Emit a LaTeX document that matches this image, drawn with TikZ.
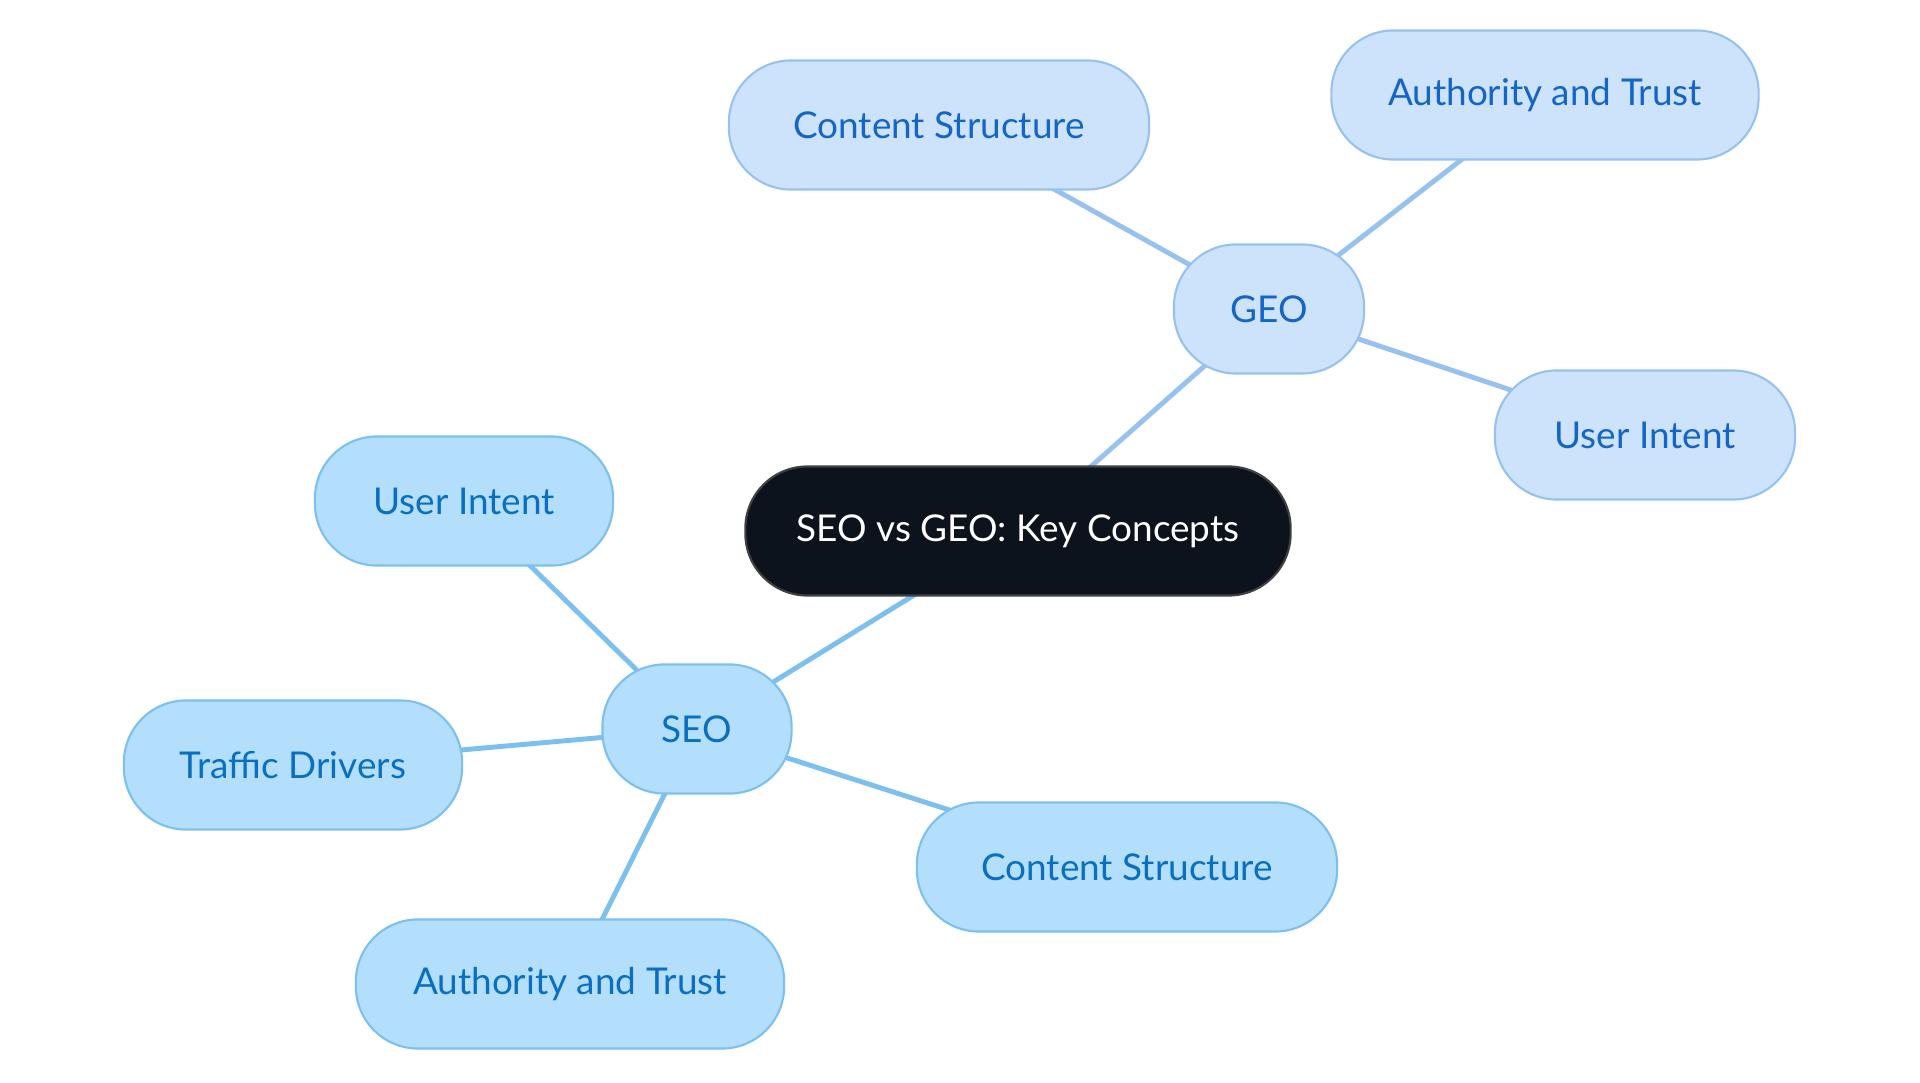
\documentclass[tikz,border=0pt]{standalone}
\usepackage{fontspec}
\setmainfont{Lato}
\usetikzlibrary{backgrounds}

\definecolor{seofill}{HTML}{B3DFFD}
\definecolor{seoline}{HTML}{7CC0F0}
\definecolor{seotext}{HTML}{0A6FC2}
\definecolor{geofill}{HTML}{CDE3FB}
\definecolor{geoline}{HTML}{97C1EE}
\definecolor{geotext}{HTML}{1565C8}
\definecolor{rootfill}{HTML}{0D131C}

\begin{document}
\begin{tikzpicture}[x=0.01cm, y=-0.01cm, every node/.style={font=\fontsize{10.5}{12}\selectfont},
	pill/.style={draw, line width=0.6pt, rounded corners=0.62cm, minimum height=1.29cm, inner xsep=0.2cm},
	seo/.style={pill, fill=seofill, draw=seoline, text=seotext},
	geo/.style={pill, fill=geofill, draw=geoline, text=geotext},
	seoedge/.style={draw=seoline, line width=1.4pt},
	geoedge/.style={draw=geoline, line width=1.4pt}]
	\useasboundingbox (0,0) rectangle (1920,1083);
	\node[pill, fill=rootfill, draw=black!75, text=white, minimum width=5.45cm] (root) at (1018,531) {SEO vs GEO: Key Concepts};
	\node[geo, minimum width=1.9cm] (geo) at (1269,309) {GEO};
	\node[seo, minimum width=1.89cm] (seo) at (697,729) {SEO};
	\node[geo, minimum width=4.2cm] (gcont) at (939,125) {Content Structure};
	\node[geo, minimum width=4.27cm] (gauth) at (1545,95) {Authority and Trust};
	\node[geo, minimum width=3.0cm] (gint) at (1645,435) {User Intent};
	\node[seo, minimum width=2.98cm] (sint) at (464,501) {User Intent};
	\node[seo, minimum width=3.38cm] (straf) at (293,765) {Traffic Drivers};
	\node[seo, minimum width=4.28cm] (sauth) at (570,984) {Authority and Trust};
	\node[seo, minimum width=4.2cm] (scont) at (1127,867) {Content Structure};
	\begin{scope}[on background layer]
	\draw[geoedge] (root.center) -- (geo.center);
	\draw[geoedge] (geo.center) -- (gcont.center);
	\draw[geoedge] (geo.center) -- (gauth.center);
	\draw[geoedge] (geo.center) -- (gint.center);
	\draw[seoedge] (root.center) -- (seo.center);
	\draw[seoedge] (seo.center) -- (sint.center);
	\draw[seoedge] (seo.center) -- (straf.center);
	\draw[seoedge] (seo.center) -- (sauth.center);
	\draw[seoedge] (seo.center) -- (scont.center);
	\end{scope}
\end{tikzpicture}
\end{document}
